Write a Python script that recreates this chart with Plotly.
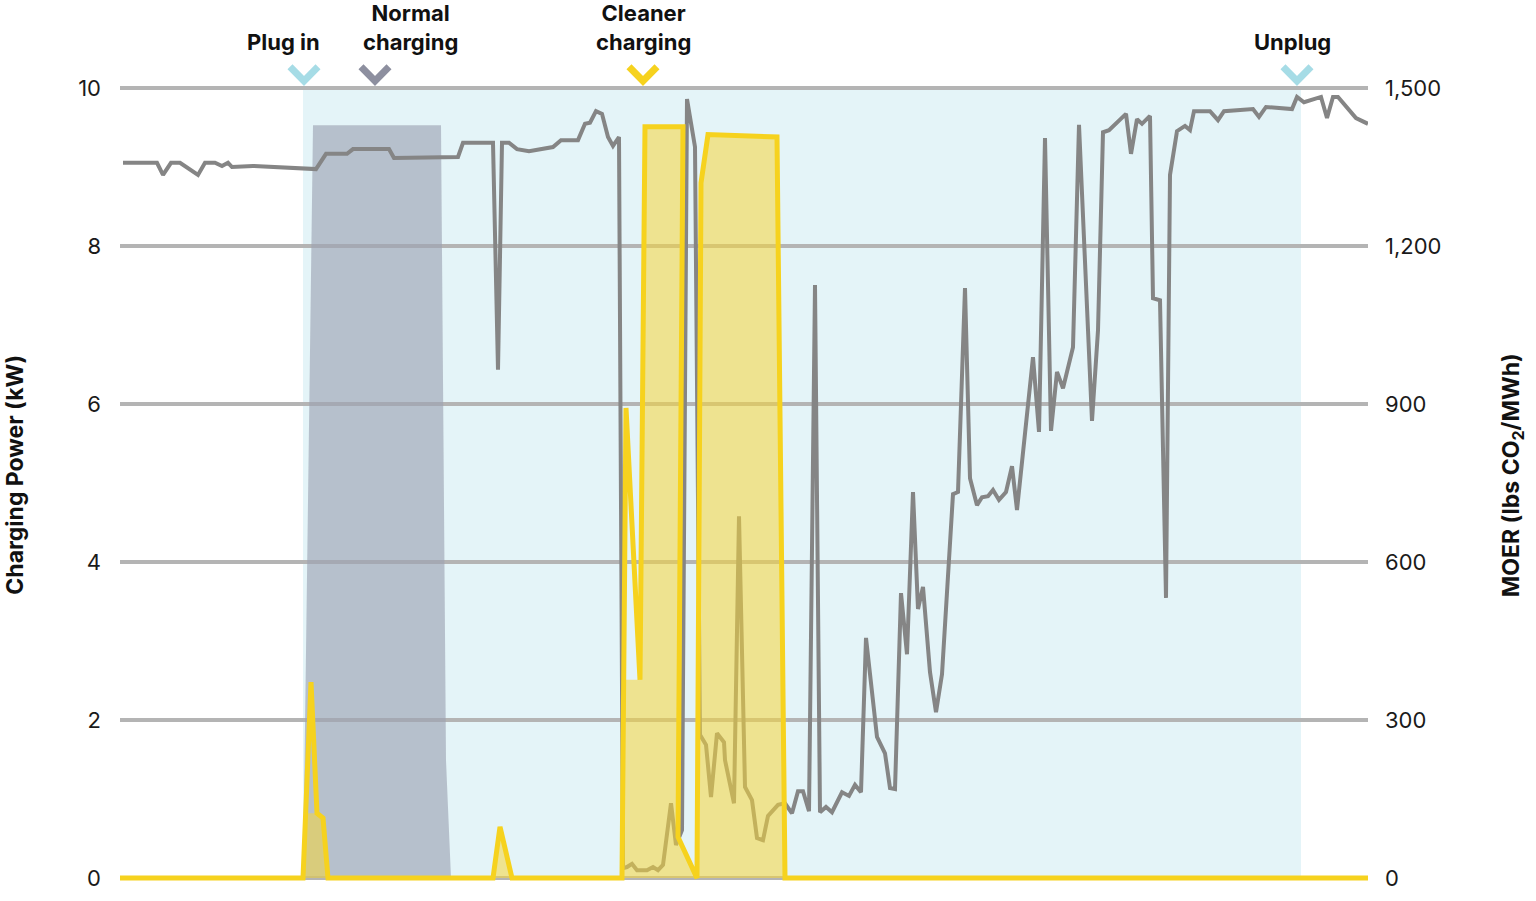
import plotly.graph_objects as go

# time axis: minutes from the start of the window
moer_t = [3, 37, 43, 51, 60, 78, 85, 95, 102, 108,
          112, 133, 196, 206, 227, 233, 269, 274, 338, 343,
          373, 378, 382, 389, 397, 409, 433, 441, 458, 465,
          470, 476, 482, 488, 493, 499, 503, 507, 512, 517,
          527, 533, 538, 543, 551, 556, 562, 567, 575, 580,
          586, 591, 597, 604, 605, 614, 619, 625, 632, 637,
          643, 648, 658, 665, 672, 678, 683, 689, 695, 700,
          706, 712, 722, 729, 735, 741, 746, 757, 765, 770,
          775, 781, 787, 793, 798, 803, 810, 816, 822, 833,
          838, 845, 850, 857, 862, 868, 873, 879, 886, 892,
          897, 913, 919, 925, 931, 937, 943, 953, 959, 972,
          978, 983, 989, 1006, 1011, 1017, 1022, 1030, 1033, 1040,
          1046, 1050, 1057, 1065, 1070, 1074, 1090, 1098, 1104, 1133,
          1139, 1146, 1172, 1177, 1184, 1201, 1207, 1213, 1218, 1236,
          1248]
# marginal operating emissions rate, lbs CO2 / MWh
moer_lbs = [1358, 1358, 1335, 1358, 1358, 1335, 1358, 1358, 1352, 1358,
            1350, 1352, 1346, 1375, 1375, 1384, 1384, 1367, 1369, 1396,
            1396, 965, 1396, 1396, 1384, 1380, 1388, 1401, 1401, 1432,
            1434, 1456, 1451, 1407, 1390, 1407, 19, 21, 27, 15,
            15, 21, 15, 25, 142, 63, 91, 1479, 1388, 272,
            253, 154, 275, 258, 224, 142, 687, 173, 148, 76,
            72, 118, 139, 142, 123, 165, 165, 127, 1126, 125,
            135, 125, 163, 156, 177, 163, 456, 268, 237, 171,
            169, 541, 425, 733, 511, 553, 391, 315, 387, 729,
            733, 1120, 759, 708, 723, 725, 737, 718, 733, 782,
            699, 989, 847, 1405, 849, 961, 930, 1008, 1430, 868,
            1040, 1416, 1420, 1451, 1375, 1441, 1432, 1447, 1101, 1097,
            532, 1335, 1418, 1428, 1420, 1456, 1456, 1439, 1456, 1460,
            1445, 1464, 1460, 1483, 1473, 1483, 1443, 1483, 1483, 1443,
            1432]

# normal (immediate) charging, kW
normal_t = [183, 193, 321, 326, 331]
normal_kw = [0, 9.53, 9.53, 1.49, 0]

# cleaner (shifted) charging, kW - measured line
clean_t = [0, 183, 191, 197, 203, 208, 373, 380, 392, 502, 506, 520, 525,
           563, 558, 577, 581, 588, 657, 665, 1250]
clean_kw = [0, 0, 2.48, 0.82, 0.76, 0, 0, 0.65, 0, 0, 5.95, 2.51, 9.51,
            9.51, 0.52, 0, 8.80, 9.41, 9.38, 0, 0]

# cleaner charging - shaded energy
clean_fill_t = [183, 188, 197, 203, 208, 373, 380, 392, 502, 503, 520, 525,
                563, 558, 577, 581, 588, 657, 665]
clean_fill_kw = [0, 0.82, 0.82, 0.76, 0, 0, 0.65, 0, 0, 2.51, 2.51, 9.51,
                 9.51, 0.52, 0, 8.80, 9.41, 9.38, 0]

plug_in_t = 183
unplug_t = 1181

event_labels = ["Plug in", "Normal<br>charging", "Cleaner<br>charging", "Unplug"]
event_t = [184, 255, 523, 1177]
event_colors = ["#a6dce6", "#8d8f9f", "#f6d21e", "#a6dce6"]
label_shift = [-21, 35, 0, -5]

kw_ticks = [0, 2, 4, 6, 8, 10]
moer_ticks = [0, 300, 600, 900, 1200, 1500]

KW_TOP = 11.0
KW_BOTTOM = -0.1
SCALE = 150  # lbs per kW so both grids line up

FONT = "Inter, Open Sans, sans-serif"

fig = go.Figure()

fig.add_shape(type="rect", xref="x", yref="y", x0=plug_in_t, x1=unplug_t,
              y0=0, y1=10, fillcolor="#e4f4f8", line_width=0, layer="below")

fig.add_trace(go.Scatter(
    x=normal_t, y=normal_kw, mode="lines", fill="toself",
    fillcolor="rgba(156,163,178,0.64)", line=dict(width=0),
    hoverinfo="skip", showlegend=False))

fig.add_trace(go.Scatter(
    x=moer_t, y=[v / SCALE for v in moer_lbs], mode="lines",
    line=dict(color="#858585", width=4), showlegend=False))

fig.add_trace(go.Scatter(
    x=clean_fill_t, y=clean_fill_kw, mode="lines", fill="toself",
    fillcolor="rgba(246,214,58,0.55)", line=dict(width=0),
    hoverinfo="skip", showlegend=False))

fig.add_trace(go.Scatter(
    x=clean_t, y=clean_kw, mode="lines",
    line=dict(color="#f6d21e", width=5), showlegend=False))

# chevrons marking the events
for t, c in zip(event_t, event_colors):
    fig.add_trace(go.Scatter(
        x=[t - 14, t, t + 14], y=[10.27, 10.09, 10.27], mode="lines",
        line=dict(color=c, width=7), hoverinfo="skip", showlegend=False))

for lab, t, dx in zip(event_labels, event_t, label_shift):
    fig.add_annotation(x=t, y=10.39, xref="x", yref="y", text=lab,
                       showarrow=False, xshift=dx, yanchor="bottom",
                       font=dict(family=FONT, size=22, color="#111111",
                                 weight="bold"))

# dummy trace to get the right axis drawn
fig.add_trace(go.Scatter(x=[moer_t[0]], y=[moer_lbs[0]], yaxis="y2",
                         mode="markers", marker=dict(opacity=0),
                         hoverinfo="skip", showlegend=False))

fig.add_annotation(x=-0.0837, y=5.1, xref="paper", yref="y", xanchor="center",
                   text="Charging Power (kW)", textangle=-90, showarrow=False,
                   font=dict(family=FONT, size=23, color="#111111", weight="bold"))
fig.add_annotation(x=1.1154, y=5.1, xref="paper", yref="y", xanchor="center",
                   text="MOER (lbs CO<sub>2</sub>/MWh)", textangle=-90,
                   showarrow=False,
                   font=dict(family=FONT, size=23, color="#111111", weight="bold"))

fig.update_layout(
    width=1536, height=901,
    margin=dict(l=120, r=168, t=9, b=15),
    paper_bgcolor="white", plot_bgcolor="white",
    font=dict(family=FONT, size=22, color="#1a1a1a"),
    xaxis=dict(range=[0, 1248], showgrid=False, zeroline=False,
               showticklabels=False, showline=False),
    yaxis=dict(range=[KW_BOTTOM, KW_TOP], tickvals=kw_ticks, showgrid=True,
               gridcolor="#b4b4b4", gridwidth=4, zeroline=False,
               showline=False, ticks="", ticklabelstandoff=18),
    yaxis2=dict(range=[KW_BOTTOM * SCALE, KW_TOP * SCALE], tickvals=moer_ticks,
                tickformat=",", overlaying="y", side="right", showgrid=False,
                zeroline=False, showline=False, ticks="", ticklabelstandoff=16),
)

# drop the default page margin so the figure sits at the window corner
fig.write_html("out.html", config={"displayModeBar": False},
               post_script="document.body.style.margin='0px';")
